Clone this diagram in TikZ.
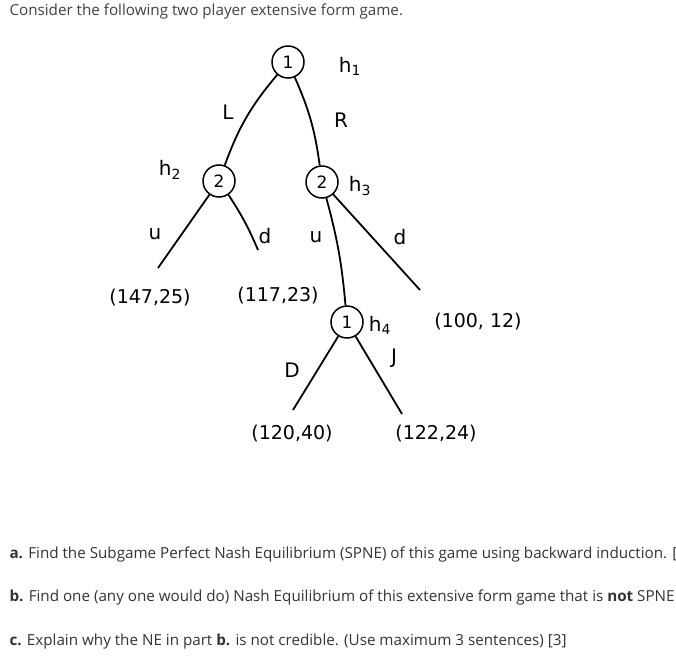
\documentclass[tikz,border=0pt]{standalone}
\usepackage{fontspec}
\setmainfont{Open Sans}
\newfontfamily\hand{DejaVu Sans}
\begin{document}
\begin{tikzpicture}[x=1pt,y=-1pt,
  pl/.style={circle,draw,line width=1.5pt,inner sep=0pt,minimum size=32pt,font=\hand\fontsize{17}{17}\selectfont},
  br/.style={line width=1.8pt},
  hw/.style={font=\hand\fontsize{20}{20}\selectfont},
  pay/.style={font=\hand\fontsize{19}{19}\selectfont},
  q/.style={anchor=west,text=black!80,font=\fontsize{15.2}{17}\selectfont}]
\useasboundingbox (0,0) rectangle (676,663);
\node[q,text=black!75] (t0) at (6,12) {Consider the following two player extensive form game.};
\node[pl] (n1) at (288,62) {1};
\node[pl] (n2) at (219,181) {2};
\node[pl] (n3) at (322,182) {2};
\node[pl] (n4) at (347,322) {1};
\coordinate (e1) at (158,268);
\coordinate (e2) at (258,250);
\coordinate (e3) at (420,290);
\coordinate (e4) at (293,410);
\coordinate (e5) at (402,414);
\draw[br] (n1) to[bend right=10] (n2);
\draw[br] (n1) to[bend left=8] (n3);
\draw[br] (n2) -- (e1);
\draw[br] (n2) to[bend left=5] (e2);
\draw[br] (n3) to[bend left=5] (n4);
\draw[br] (n3) -- (e3);
\draw[br] (n4) -- (e4);
\draw[br] (n4) -- (e5);
\node[hw] (h1) at (350,66) {h\textsubscript{1}};
\node[hw] (h2) at (170,170) {h\textsubscript{2}};
\node[hw] (h3) at (360,186) {h\textsubscript{3}};
\node[hw] (h4) at (380,325) {h\textsubscript{4}};
\node[hw] (lL) at (228,112) {L};
\node[hw] (lR) at (341,120) {R};
\node[hw] (lu1) at (155,234) {u};
\node[hw] (ld1) at (265,236) {d};
\node[hw] (lu2) at (316,237) {u};
\node[hw] (ld2) at (400,237) {d};
\node[hw] (lD) at (292,370) {D};
\node[hw] (lJ) at (394,358) {J};
\node[pay] (p1) at (150,298) {(147,25)};
\node[pay] (p2) at (278,296) {(117,23)};
\node[pay] (p3) at (478,322) {(100, 12)};
\node[pay] (p4) at (292,434) {(120,40)};
\node[pay] (p5) at (436,434) {(122,24)};
\node[q] (qa) at (6,555) {\textbf{a.} Find the Subgame Perfect Nash Equilibrium (SPNE) of this game using backward induction. [};
\node[q] (qb) at (6,598) {\textbf{b.} Find one (any one would do) Nash Equilibrium of this extensive form game that is \textbf{not} SPNE};
\node[q] (qc) at (6,642) {\textbf{c.} Explain why the NE in part \textbf{b.} is not credible. (Use maximum 3 sentences) [3]};
\end{tikzpicture}
\end{document}
